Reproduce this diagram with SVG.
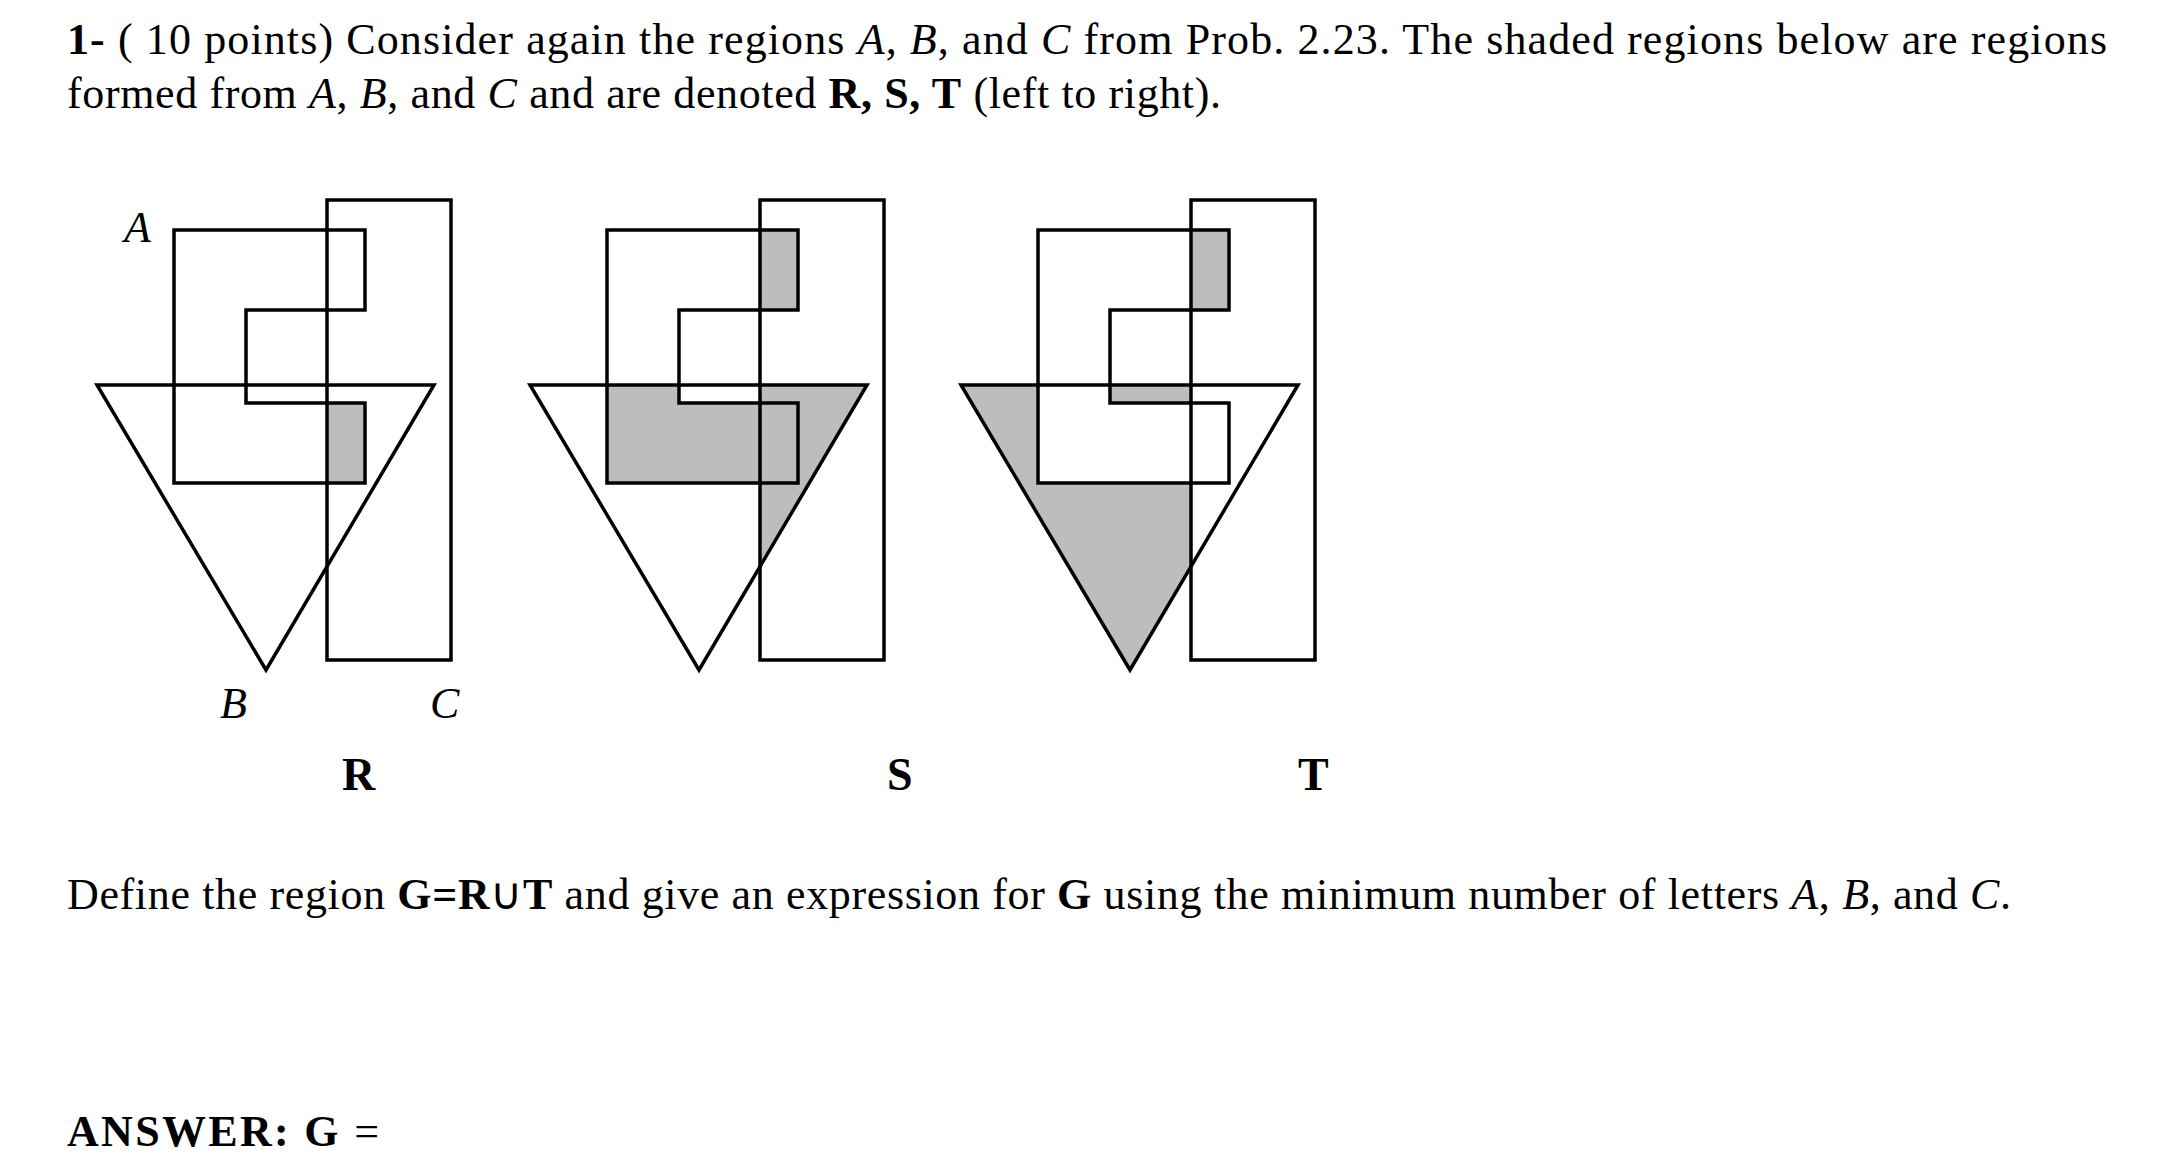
<svg xmlns="http://www.w3.org/2000/svg" width="2162" height="1164" viewBox="0 0 2162 1164">
<style>
text{font-family:"Liberation Serif","Times New Roman",serif;fill:#000}
.t{font-size:44px}
.lab{font-size:46px;font-weight:bold}
.it{font-style:italic}
.o{fill:none;stroke:#000;stroke-width:3.5;stroke-linejoin:miter}
.g{fill:#bdbdbd}
.w{fill:#fff}
</style>
<defs>
<path id="A" d="M174,230 H365 V310 H246 V403 H365 V483 H174 Z"/>
<path id="B" d="M97,385 H434 L266,670 Z"/>
<rect id="C" x="327" y="200" width="124" height="460"/>
<clipPath id="cA1"><use href="#A"/></clipPath>
<clipPath id="cB1"><use href="#B"/></clipPath>
<clipPath id="cC1"><use href="#C"/></clipPath>
</defs>
<text class="t" x="67" y="54" textLength="2040" lengthAdjust="spacing"><tspan font-weight="bold">1-</tspan> ( 10 points)  Consider again the regions <tspan class="it">A</tspan>, <tspan class="it">B</tspan>, and <tspan class="it">C</tspan> from Prob. 2.23.   The shaded regions below are regions</text>
<text class="t" x="67" y="108" textLength="1154" lengthAdjust="spacing">formed from <tspan class="it">A</tspan>, <tspan class="it">B</tspan>, and <tspan class="it">C</tspan> and are denoted <tspan font-weight="bold">R, S, T</tspan> (left to right).</text>

<g id="R">
<g clip-path="url(#cA1)"><g clip-path="url(#cB1)"><rect class="g" clip-path="url(#cC1)" x="0" y="0" width="2162" height="1164"/></g></g>
<use href="#A" class="o"/><use href="#B" class="o"/><use href="#C" class="o"/>
<text class="t it" x="124" y="242">A</text>
<text class="t it" x="220" y="718">B</text>
<text class="t it" x="430" y="718">C</text>
<text class="lab" x="342" y="790">R</text>
</g>

<g id="S" transform="translate(433,0)">
<g clip-path="url(#cA1)"><rect class="g" clip-path="url(#cB1)" x="0" y="0" width="2162" height="1164"/></g>
<g clip-path="url(#cB1)"><rect class="g" clip-path="url(#cC1)" x="0" y="0" width="2162" height="1164"/></g>
<g clip-path="url(#cA1)"><rect class="g" clip-path="url(#cC1)" x="0" y="0" width="2162" height="1164"/></g>
<use href="#A" class="o"/><use href="#B" class="o"/><use href="#C" class="o"/>
<text class="lab" x="454" y="790">S</text>
</g>

<g id="T" transform="translate(864,0)">
<use href="#B" class="g"/>
<g clip-path="url(#cB1)"><use href="#A" class="w"/><use href="#C" class="w"/></g>
<rect class="g" x="327" y="230" width="38" height="80"/>
<use href="#A" class="o"/><use href="#B" class="o"/><use href="#C" class="o"/>
<text class="lab" x="434" y="790">T</text>
</g>

<text class="t" x="67" y="909" textLength="1944" lengthAdjust="spacing">Define the region <tspan font-weight="bold">G=R</tspan>∪<tspan font-weight="bold">T</tspan> and give an expression for <tspan font-weight="bold">G</tspan> using the minimum number of letters <tspan class="it">A</tspan>, <tspan class="it">B</tspan>, and <tspan class="it">C</tspan>.</text>
<text class="t" x="67" y="1146" textLength="312" lengthAdjust="spacing"><tspan font-weight="bold">ANSWER:  G</tspan> =</text>
</svg>
